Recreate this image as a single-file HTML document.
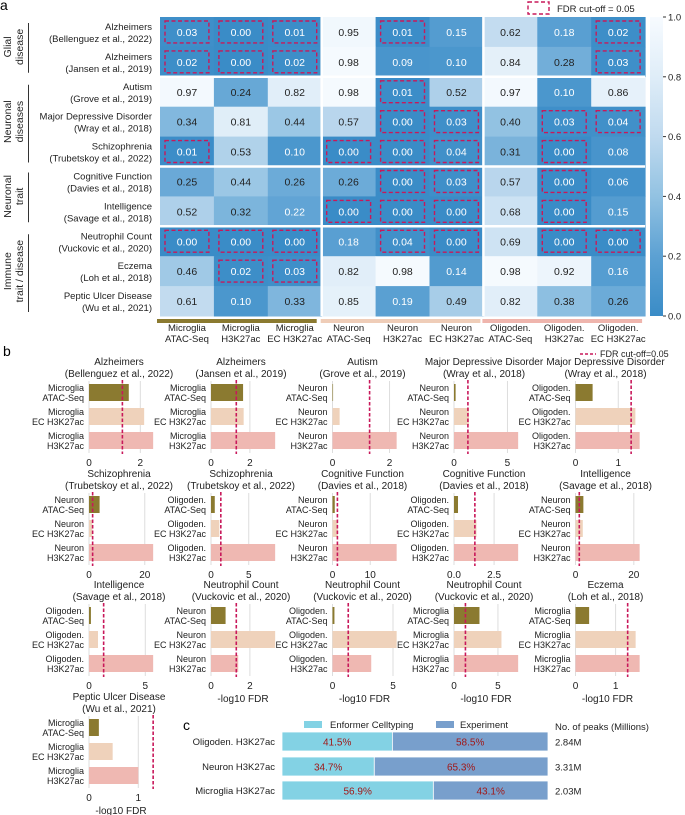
<!DOCTYPE html>
<html><head><meta charset="utf-8"><style>
body{margin:0;background:#fff;}
svg{display:block;font-family:"Liberation Sans","DejaVu Sans",sans-serif;}
</style></head><body>
<svg id="fig" width="685" height="815" viewBox="0 0 685 815" xmlns="http://www.w3.org/2000/svg"></svg>
<script>
// ---------- Panel a data ----------
const rowLabels=[["Alzheimers","(Bellenguez et al., 2022)"],["Alzheimers","(Jansen et al., 2019)"],["Autism","(Grove et al., 2019)"],["Major Depressive Disorder","(Wray et al., 2018)"],["Schizophrenia","(Trubetskoy et al., 2022)"],["Cognitive Function","(Davies et al., 2018)"],["Intelligence","(Savage et al., 2018)"],["Neutrophil Count","(Vuckovic et al., 2020)"],["Eczema","(Loh et al., 2018)"],["Peptic Ulcer Disease","(Wu et al., 2021)"]];
const colLabels=[["Microglia","ATAC-Seq"],["Microglia","H3K27ac"],["Microglia","EC H3K27ac"],["Neuron","ATAC-Seq"],["Neuron","H3K27ac"],["Neuron","EC H3K27ac"],["Oligoden.","ATAC-Seq"],["Oligoden.","H3K27ac"],["Oligoden.","EC H3K27ac"]];
const fdrValues=[
[0.03,0.00,0.01,0.95,0.01,0.15,0.62,0.18,0.02],
[0.02,0.00,0.02,0.98,0.09,0.10,0.84,0.28,0.03],
[0.97,0.24,0.82,0.98,0.01,0.52,0.97,0.10,0.86],
[0.34,0.81,0.44,0.57,0.00,0.03,0.40,0.03,0.04],
[0.01,0.53,0.10,0.00,0.00,0.04,0.31,0.00,0.08],
[0.25,0.44,0.26,0.26,0.00,0.03,0.57,0.00,0.06],
[0.52,0.32,0.22,0.00,0.00,0.00,0.68,0.00,0.15],
[0.00,0.00,0.00,0.18,0.04,0.00,0.69,0.00,0.00],
[0.46,0.02,0.03,0.82,0.98,0.14,0.98,0.92,0.16],
[0.61,0.10,0.33,0.85,0.19,0.49,0.82,0.38,0.26]];
const groupLabels=[["Glial","disease",0,2],["Neuronal","diseases",2,5],["Neuronal","trait",5,7],["Immune","trait / disease",7,10]];
const cbTicks=["0.0","0.2","0.4","0.6","0.8","1.0"];
// ---------- Panel b data ----------
const barTitles=[["Alzheimers","(Bellenguez et al., 2022)"],["Alzheimers","(Jansen et al., 2019)"],["Autism","(Grove et al., 2019)"],["Major Depressive Disorder","(Wray et al., 2018)"],["Major Depressive Disorder","(Wray et al., 2018)"],["Schizophrenia","(Trubetskoy et al., 2022)"],["Schizophrenia","(Trubetskoy et al., 2022)"],["Cognitive Function","(Davies et al., 2018)"],["Cognitive Function","(Davies et al., 2018)"],["Intelligence","(Savage et al., 2018)"],["Intelligence","(Savage et al., 2018)"],["Neutrophil Count","(Vuckovic et al., 2020)"],["Neutrophil Count","(Vuckovic et al., 2020)"],["Neutrophil Count","(Vuckovic et al., 2020)"],["Eczema","(Loh et al., 2018)"],["Peptic Ulcer Disease","(Wu et al., 2021)"]];
const barCells=["Microglia","Microglia","Neuron","Neuron","Oligoden.","Neuron","Oligoden.","Neuron","Oligoden.","Neuron","Oligoden.","Neuron","Oligoden.","Microglia","Microglia","Microglia"];
const atacVals=[1.55,1.65,0.02,0.15,0.4,3.8,0.5,0.6,0.25,2.7,0.17,0.75,0.16,2.9,0.34,0.2];
const ecVals=[2.15,1.68,0.25,1.4,1.4,1.2,1.1,1.4,1.4,2.5,0.8,3.3,5.3,5.4,1.5,0.48];
const h3Vals=[2.5,3.3,2.25,6.0,1.5,23,8.5,17,4.0,22,5.7,1.4,3.2,7.3,1.6,1.0];
const tickSets=[[0,2],[0,2],[0,2],[0,5],[0,1],[0,20],[0,5],[0,10],[0,2.5],[0,20],[0,5],[0,2],[0,5],[0,5],[0,1],[0,1]];
const tickText=[["0","2"],["0","2"],["0","2"],["0","5"],["0","1"],["0","20"],["0","5"],["0","10"],["0.0","2.5"],["0","20"],["0","5"],["0","2"],["0","5"],["0","5"],["0","1"],["0","1"]];
const cutoff=1.301;
// ---------- Panel c data ----------
const stackCats=["Oligoden. H3K27ac","Neuron H3K27ac","Microglia H3K27ac"];
const enformerPct=[41.5,34.7,56.9];
const experimentPct=[58.5,65.3,43.1];
const peakCounts=["2.84M","3.31M","2.03M"];

const svg=document.getElementById('fig');
const NS="http://www.w3.org/2000/svg";
function mk(tag,attrs,parent){const e=document.createElementNS(NS,tag);for(const k in attrs)e.setAttribute(k,attrs[k]);(parent||svg).appendChild(e);return e;}
function txt(x,y,s,size,anchor,fill,parent){const t=mk('text',{x:x,y:y,'font-size':size,'text-anchor':anchor||'start',fill:fill||'#222'},parent);t.textContent=s;return t;}

const stops=[[0,[58,140,199]],[0.2,[92,161,211]],[0.4,[146,194,226]],[0.6,[192,218,239]],[0.8,[223,237,248]],[1,[247,251,255]]];
function cmap(v){v=Math.max(0,Math.min(1,v));for(let i=1;i<stops.length;i++){if(v<=stops[i][0]){const a=stops[i-1],b=stops[i];const t=(v-a[0])/(b[0]-a[0]);const c=a[1].map((x,j)=>Math.round(x+(b[1][j]-x)*t));return `rgb(${c})`;}}return 'rgb(247,251,255)';}

// ---------- Panel a ----------
const pa=mk('g',{});


let lab=txt(0,10,"a",14,'start','#000');

const HX=160,HY=17,CW=53.9,RH=29.9;
const xCol=c=>HX+c*CW, yRow=r=>HY+r*RH;
fdrValues.forEach((row,r)=>row.forEach((v,c)=>{
  const cell=mk('rect',{x:xCol(c),y:yRow(r),width:CW+0.5,height:RH+0.5,fill:cmap(v)},pa);
  
  
  const t=txt(xCol(c)+CW/2,yRow(r)+RH/2+4,v.toFixed(2),10.5,'middle',v<0.23?'#fff':'#222',pa);
  
  
  if(v<0.05){const b=mk('rect',{x:xCol(c)+5,y:yRow(r)+4,width:CW-10,height:RH-8,fill:'none',stroke:'#c8185a','stroke-width':1.4,'stroke-dasharray':'4,2.5'},pa);
    
    }
}));
[3,6].forEach(c=>mk('line',{x1:xCol(c),x2:xCol(c),y1:HY,y2:yRow(10),stroke:'#fff','stroke-width':2.5},pa));
[2,5,7].forEach(r=>mk('line',{x1:HX,x2:xCol(9),y1:yRow(r),y2:yRow(r),stroke:'#fff','stroke-width':2.5},pa));
rowLabels.forEach((l,r)=>{const g=mk('g',{},pa);
  txt(152,yRow(r)+RH/2-2,l[0],9.5,'end','#222',g);txt(152,yRow(r)+RH/2+10,l[1],9.5,'end','#222',g);});
groupLabels.forEach(g=>{const y1=yRow(g[2])+4,y2=yRow(g[3])-4,cy=(y1+y2)/2;
  const gg=mk('g',{},pa);
  mk('line',{x1:28.5,x2:28.5,y1:y1+(g[3]-g[2]>2?4:2),y2:y2,stroke:'#333','stroke-width':1},gg);
  const t1=txt(0,0,g[0],10.5,'middle','#222',gg);t1.setAttribute('transform',`translate(11,${cy}) rotate(-90)`);
  const t2=txt(0,0,g[1],10.5,'middle','#222',gg);t2.setAttribute('transform',`translate(23,${cy}) rotate(-90)`);});
const stripCols=['#8b7a30','#efcdb8','#efb5ad'];
stripCols.forEach((c,i)=>{const s=mk('rect',{x:xCol(i*3)-3+(i?2:0),y:319,width:CW*3-2,height:4,fill:c},pa);});
colLabels.forEach((l,c)=>{const g=mk('g',{},pa);
  txt(xCol(c)+CW/2,331,l[0],9.5,'middle','#222',g);txt(xCol(c)+CW/2,342,l[1],9.5,'middle','#222',g);});
const defs=mk('defs',{});const lg=mk('linearGradient',{id:'cb',x1:0,y1:1,x2:0,y2:0},defs);
stops.forEach(s=>mk('stop',{offset:s[0],'stop-color':`rgb(${s[1]})`},lg));
const cb=mk('rect',{x:650,y:HY,width:13,height:yRow(10)-HY,fill:'url(#cb)'},pa);

cbTicks.forEach((t,i)=>{const y=yRow(10)-(yRow(10)-HY)*i/5;mk('line',{x1:663,x2:666,y1:y,y2:y,stroke:'#333'},pa);
  const tt=txt(668,y+3.5,t,9.5,'start','#222',pa);});
const lgd=mk('g',{},pa);
mk('rect',{x:528,y:2,width:21,height:12,fill:'none',stroke:'#c8185a','stroke-width':1.4,'stroke-dasharray':'4,2.5'},lgd);
txt(557,12,"FDR cut-off = 0.05",9.5,'start','#222',lgd);

// ---------- Panel b ----------
let lb=txt(3,356,"b",14,'start','#000');
const bl=mk('g',{});
mk('line',{x1:580,x2:596,y1:354,y2:354,stroke:'#c8185a','stroke-width':1.5,'stroke-dasharray':'3,2'},bl);
txt(600,357,"FDR cut-off=0.05",9,'start','#222',bl);
const colX0=[89,211,332.5,454,575.5], rowTop=[384,496,607,719], AW=68;
const barFills=['#8b7a30','#efd2bb','#efb8b2'];
const rowNames=['ATAC-Seq','EC H3K27ac','H3K27ac'];
barTitles.forEach((tl,i)=>{
  const x0=colX0[i%5], top=rowTop[Math.floor(i/5)];
  const vals=[atacVals[i],ecVals[i],h3Vals[i]];
  const xmax=Math.max(h3Vals[i],atacVals[i],ecVals[i],cutoff)*1.06;
  const sx=v=>x0+v/xmax*AW;
  const g=mk('g',{});
  txt(x0+AW/2-4,top-19,tl[0],10,'middle','#222',g);txt(x0+AW/2-4,top-7,tl[1],10,'middle','#222',g);
  tickSets[i].forEach((t,k)=>{const x=sx(t);mk('line',{x1:x,x2:x,y1:top-3,y2:top+69,stroke:'#ddd','stroke-width':1},g);
    const tt=txt(x,top+82,tickText[i][k],10,'middle','#222',g);});
  vals.forEach((v,k)=>{const y=top+k*24;
    const b=mk('rect',{x:x0,y:y,width:Math.max(0,sx(v)-x0),height:17,fill:barFills[k]},g);
    
    txt(x0-5,y+7,barCells[i],9,'end','#222',g);txt(x0-5,y+17,rowNames[k],9,'end','#222',g);});
  const cx=sx(cutoff);
  const dl=mk('line',{x1:cx,x2:cx,y1:top-4,y2:top+70,stroke:'#c8185a','stroke-width':1.6,'stroke-dasharray':'3.5,2'},g);
  
  if(i>=11){const xl=txt(x0+AW/2-2,top+95,"-log10 FDR",10,'middle','#222',g);}
});

// ---------- Panel c ----------
let lc=txt(183,730,"c",14,'start','#000');
const CX=282,CWd=266;const sxc=p=>CX+p/100*CWd;
const lgc=mk('g',{});
mk('rect',{x:304,y:721,width:18,height:7,fill:'#83d2e4'},lgc);txt(330,728,"Enformer Celltyping",9.5,'start','#222',lgc);
mk('rect',{x:436,y:721,width:18,height:7,fill:'#789fcc'},lgc);txt(460,728,"Experiment",9.5,'start','#222',lgc);
txt(555,730,"No. of peaks (Millions)",9.5,'start','#222',lgc);
const cRowY=[732,757,781];
stackCats.forEach((c,i)=>{const y=cRowY[i];const g=mk('g',{});
  txt(275,y+13,c,9.5,'end','#222',g);
  const b1=mk('rect',{x:sxc(0),y:y,width:sxc(enformerPct[i])-sxc(0),height:19,fill:'#83d2e4',stroke:'#fff','stroke-width':0.8},g);
  
  const b2=mk('rect',{x:sxc(enformerPct[i]),y:y,width:sxc(enformerPct[i]+experimentPct[i])-sxc(enformerPct[i]),height:19,fill:'#789fcc',stroke:'#fff','stroke-width':0.8},g);
  
  txt((sxc(0)+sxc(enformerPct[i]))/2,y+13.5,enformerPct[i].toFixed(1)+"%",10,'middle','#a01818',g);
  txt((sxc(enformerPct[i])+sxc(100))/2,y+13.5,experimentPct[i].toFixed(1)+"%",10,'middle','#a01818',g);
  txt(555,y+13.5,peakCounts[i],9.5,'start','#222',g);});
</script>
</body></html>
